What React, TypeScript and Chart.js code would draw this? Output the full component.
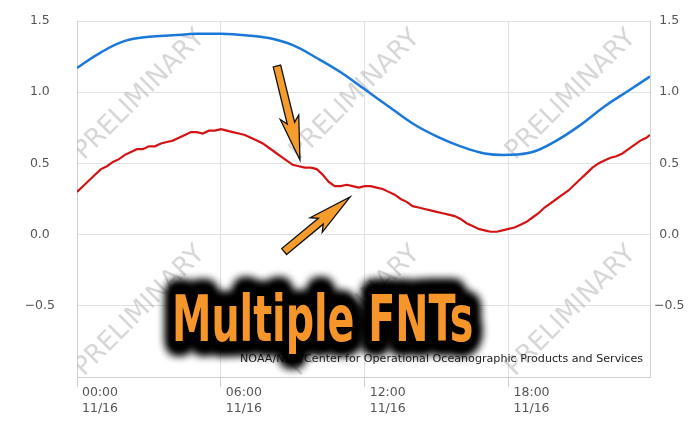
import { useEffect, useRef } from "react";
import { Chart, registerables } from "chart.js";

Chart.register(...registerables);

// ---------- data ----------
const xTickHours = [0, 6, 12, 18];
const xTickTimes = ["00:00", "06:00", "12:00", "18:00"];
const xTickDate = "11/16";
const yTickStep = 0.5;
const yMin = -1.0;
const yMax = 1.5;
const xMin = 0;
const xMax = 23.9;

// Predicted tide (blue)
const predictedHours = [0, 1, 2, 3, 4, 5, 6, 7, 8, 9, 10, 11, 12, 13, 14, 15, 16, 17, 18, 19, 20, 21, 22, 23, 23.9];
const predictedValues = [1.17, 1.28, 1.36, 1.39, 1.4, 1.41, 1.41, 1.4, 1.38, 1.33, 1.24, 1.14, 1.02, 0.9, 0.78, 0.69, 0.62, 0.57, 0.56, 0.58, 0.66, 0.77, 0.9, 1.01, 1.11];

// Observed water level (red)
const observedHours = [
  0, 0.25, 0.5, 0.75, 1, 1.25, 1.5, 1.75, 2, 2.25, 2.5, 2.75, 3, 3.25, 3.5, 3.75,
  4, 4.25, 4.5, 4.75, 5, 5.25, 5.5, 5.75, 6, 6.25, 6.5, 6.75, 7, 7.25, 7.5, 7.75,
  8, 8.25, 8.5, 8.75, 9, 9.25, 9.5, 9.75, 10, 10.25, 10.5, 10.75, 11, 11.25, 11.5, 11.75,
  12, 12.25, 12.5, 12.75, 13, 13.25, 13.5, 13.75, 14, 14.25, 14.5, 14.75, 15, 15.25, 15.5, 15.75,
  16, 16.25, 16.5, 16.75, 17, 17.25, 17.5, 17.75, 18, 18.25, 18.5, 18.75, 19, 19.25, 19.5, 19.75,
  20, 20.25, 20.5, 20.75, 21, 21.25, 21.5, 21.75, 22, 22.25, 22.5, 22.75, 23, 23.25, 23.5, 23.75, 23.9,
];
const observedValues = [
  0.3, 0.34, 0.38, 0.42, 0.46, 0.48, 0.51, 0.53, 0.56, 0.58, 0.6, 0.6, 0.62, 0.62, 0.64, 0.65,
  0.66, 0.68, 0.7, 0.72, 0.72, 0.71, 0.73, 0.73, 0.74, 0.73, 0.72, 0.71, 0.7, 0.68, 0.66, 0.64,
  0.61, 0.58, 0.55, 0.52, 0.49, 0.48, 0.47, 0.47, 0.46, 0.42, 0.37, 0.34, 0.34, 0.35, 0.34, 0.33,
  0.34, 0.34, 0.33, 0.32, 0.3, 0.28, 0.25, 0.23, 0.2, 0.19, 0.18, 0.17, 0.16, 0.15, 0.14, 0.13,
  0.11, 0.08, 0.06, 0.04, 0.03, 0.02, 0.02, 0.03, 0.04, 0.05, 0.07, 0.09, 0.12, 0.15, 0.19, 0.22,
  0.25, 0.28, 0.31, 0.35, 0.39, 0.43, 0.47, 0.5, 0.52, 0.54, 0.55, 0.57, 0.6, 0.63, 0.66, 0.68, 0.7,
];

// Annotations (data coordinates: hours, level)
const WATERMARK_TEXT = "PRELIMINARY";
const watermarkHours = [2.63, 11.6, 20.61];
const watermarkLevels = [0.98, -0.537];
const arrowTails = [[8.34, 1.184], [8.64, -0.119]];
const arrowTips = [[9.3, 0.524], [11.39, 0.264]];
const TITLE_TEXT = "Multiple FNTs";
const titleAnchor = [3.96, -0.747];
const titleEndHour = 16.53;
const CREDIT_TEXT = "NOAA/NOS/Center for Operational Oceanographic Products and Services";
const creditAnchor = [23.61, -0.893];
const creditStartHour = 6.8;

const fmt = (v: number) => (Math.abs(v - yMin) < 1e-6 ? "" : v.toFixed(1).replace("-", "\u2212"));

function drawArrow(ctx: CanvasRenderingContext2D, tx: number, ty: number, px: number, py: number) {
  const dx = px - tx;
  const dy = py - ty;
  const L = Math.hypot(dx, dy);
  const ux = dx / L, uy = dy / L;
  const vx = -uy, vy = ux;
  const sw = 3.8, hw = 9.5, hl = 38, barb = 6;
  const p = (a: number, b: number) => [tx + ux * a + vx * b, ty + uy * a + vy * b];
  const pts = [p(0, sw), p(L - hl, sw), p(L - hl - barb, hw), [px, py], p(L - hl - barb, -hw), p(L - hl, -sw), p(0, -sw)];
  ctx.beginPath();
  pts.forEach((q, i) => (i ? ctx.lineTo(q[0], q[1]) : ctx.moveTo(q[0], q[1])));
  ctx.closePath();
  ctx.fillStyle = "#f59c2c";
  ctx.fill();
  ctx.lineWidth = 1.3;
  ctx.strokeStyle = "#111";
  ctx.lineJoin = "miter";
  ctx.stroke();
}

const overlayPlugin = {
  id: "overlay",
  beforeDatasetsDraw(chart: any) {
    const { ctx, chartArea: a, scales } = chart;
    const x = scales.x, y = scales.y;
    ctx.save();
    ctx.beginPath();
    ctx.rect(a.left, a.top, a.right - a.left, a.bottom - a.top);
    ctx.clip();
    ctx.font = '26px "DejaVu Sans"';
    ctx.fillStyle = "rgba(175,175,175,0.5)";
    ctx.textAlign = "center";
    ctx.textBaseline = "middle";
    for (const h of watermarkHours) {
      for (const l of watermarkLevels) {
        ctx.save();
        ctx.translate(x.getPixelForValue(h), y.getPixelForValue(l));
        ctx.rotate(-Math.PI / 4);
        ctx.fillText(WATERMARK_TEXT, 0, 0);
        ctx.restore();
      }
    }
    ctx.restore();
  },
  afterDatasetsDraw(chart: any) {
    const { ctx, scales } = chart;
    const x = scales.x, y = scales.y;

    // credit
    ctx.save();
    ctx.font = '10px "DejaVu Sans"';
    const cw = ctx.measureText(CREDIT_TEXT).width;
    const cRight = x.getPixelForValue(creditAnchor[0]);
    const cTarget = cRight - x.getPixelForValue(creditStartHour);
    ctx.translate(cRight, y.getPixelForValue(creditAnchor[1]));
    ctx.scale(cTarget / cw, 1);
    ctx.fillStyle = "#222";
    ctx.textAlign = "right";
    ctx.textBaseline = "alphabetic";
    ctx.fillText(CREDIT_TEXT, 0, 0);
    ctx.restore();

    // arrows
    ctx.save();
    for (let i = 0; i < arrowTails.length; i++) {
      drawArrow(
        ctx,
        x.getPixelForValue(arrowTails[i][0]),
        y.getPixelForValue(arrowTails[i][1]),
        x.getPixelForValue(arrowTips[i][0]),
        y.getPixelForValue(arrowTips[i][1])
      );
    }
    ctx.restore();

    // title with black glow
    ctx.save();
    ctx.font = 'bold 64px "DejaVu Sans Condensed", "DejaVu Sans"';
    const tw = ctx.measureText(TITLE_TEXT).width;
    const tLeft = x.getPixelForValue(titleAnchor[0]);
    const tTarget = x.getPixelForValue(titleEndHour) - tLeft;
    ctx.translate(tLeft, y.getPixelForValue(titleAnchor[1]));
    ctx.scale(tTarget / tw, 1);
    ctx.textAlign = "left";
    ctx.textBaseline = "alphabetic";
    ctx.lineJoin = "round";
    ctx.strokeStyle = "#000";
    ctx.filter = "blur(5px)";
    ctx.lineWidth = 26;
    ctx.strokeText(TITLE_TEXT, 0, 0);
    ctx.strokeText(TITLE_TEXT, 0, 0);
    ctx.filter = "blur(2px)";
    ctx.lineWidth = 16;
    ctx.strokeText(TITLE_TEXT, 0, 0);
    ctx.filter = "none";
    ctx.fillStyle = "#f6962a";
    ctx.fillText(TITLE_TEXT, 0, 0);
    ctx.restore();
  },
};

export default function App() {
  const ref = useRef<HTMLCanvasElement | null>(null);
  useEffect(() => {
    document.body.style.margin = "0";
    const canvas = ref.current;
    if (!canvas) return;
    const gridColor = "#e2e2e2";
    const borderColor = "#d0d0d0";
    const tickFont = { family: '"DejaVu Sans"', size: 12.5, lineHeight: 1.32 };
    const chart = new Chart(canvas, {
      type: "line",
      data: {
        datasets: [
          {
            label: "Predicted",
            data: predictedHours.map((h, i) => ({ x: h, y: predictedValues[i] })),
            borderColor: "#1a78d8",
            borderWidth: 2.5,
            pointRadius: 0,
            tension: 0.4,
            yAxisID: "y",
          },
          {
            label: "Observed",
            data: observedHours.map((h, i) => ({ x: h, y: observedValues[i] })),
            borderColor: "#d41414",
            borderWidth: 2.2,
            pointRadius: 0,
            tension: 0,
            yAxisID: "y",
          },
        ],
      },
      options: {
        responsive: false,
        animation: false,
        events: [],
        layout: { padding: { top: 21, left: 0, right: 0, bottom: 0 } },
        plugins: { legend: { display: false }, tooltip: { enabled: false } },
        scales: {
          x: {
            type: "linear",
            min: xMin,
            max: xMax,
            afterBuildTicks: (s: any) => {
              s.ticks = xTickHours.map((v) => ({ value: v }));
            },
            afterFit: (s: any) => {
              s.height = 60;
              s.paddingLeft = 0;
              s.paddingRight = 0;
            },
            grid: { color: gridColor, tickLength: 10, tickColor: "#cfcfcf" },
            border: { color: borderColor },
            ticks: {
              align: "start",
              labelOffset: 5,
              padding: -3,
              maxRotation: 0,
              autoSkip: false,
              color: "#555",
              font: tickFont,
              callback: (_v: any, i: number) => [xTickTimes[i], xTickDate],
            },
          },
          y: {
            position: "left",
            min: yMin,
            max: yMax,
            afterFit: (s: any) => {
              s.width = 77;
              s.paddingTop = 0;
              s.paddingBottom = 0;
            },
            grid: { color: gridColor, drawTicks: false },
            border: { color: borderColor },
            ticks: {
              stepSize: yTickStep,
              crossAlign: "center",
              padding: 22,
              color: "#555",
              font: tickFont,
              callback: (v: any) => fmt(Number(v)),
            },
          },
          y2: {
            position: "right",
            min: yMin,
            max: yMax,
            afterFit: (s: any) => {
              s.width = 44;
              s.paddingTop = 0;
              s.paddingBottom = 0;
            },
            grid: { drawOnChartArea: false, drawTicks: false, color: gridColor },
            border: { color: borderColor },
            ticks: {
              stepSize: yTickStep,
              crossAlign: "center",
              padding: 4,
              color: "#555",
              font: tickFont,
              callback: (v: any) => fmt(Number(v)),
            },
          },
        },
      } as any,
      plugins: [overlayPlugin],
    });
    return () => chart.destroy();
  }, []);
  return (
    <div style={{ width: 694, height: 437, background: "#fff" }}>
      <canvas ref={ref} width={694} height={437} style={{ display: "block" }} />
    </div>
  );
}
